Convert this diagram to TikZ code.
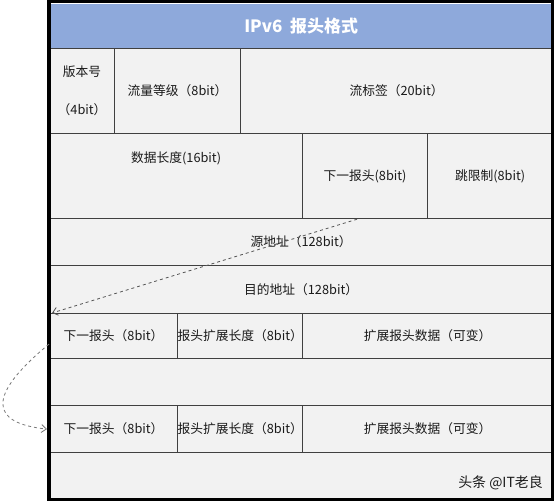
\documentclass[tikz,border=0pt]{standalone}
\usepackage{fontspec}
\newfontfamily\cjk{Noto Sans CJK SC}
\usetikzlibrary{arrows.meta}
\definecolor{titleblue}{HTML}{8EA9DB}
\definecolor{cellgray}{HTML}{F2F2F2}
\definecolor{gridgray}{HTML}{404040}
\definecolor{textgray}{HTML}{1A1A1A}
\definecolor{arrowgray}{HTML}{555555}
\definecolor{curvegray}{HTML}{777777}
\begin{document}
\begin{tikzpicture}[x=1bp,y=1bp]

  % Definitions
  \tikzstyle{Field} = [rectangle, anchor=north west, inner sep=0pt, draw=gridgray, line width=1.2bp, fill=cellgray, text=textgray, font=\cjk\fontsize{12.8}{14}\selectfont, text centered]
  \tikzstyle{Label} = [inner sep=0pt, text=textgray, font=\cjk\fontsize{12.8}{14}\selectfont]
  \tikzstyle{arrow} = [dashed, line width=0.8bp, -{Straight Barb[length=5bp,width=8bp]}]

  \useasboundingbox (0,0) rectangle (555,-501);

  % title
  \node (title) [Field, draw=none, fill=titleblue, text=white, font=\cjk\bfseries\fontsize{17}{19}\selectfont, minimum width=503bp, minimum height=45bp] at (49,-3) {IPv6\ \ 报头格式};

  % fixed header
  \node (ver) [Field, minimum width=65bp, minimum height=85bp, align=center, font=\cjk\fontsize{12.8}{38}\selectfont] at (49,-48) {版本号\\（4bit）};
  \node (tc) [Field, minimum width=126bp, minimum height=85bp] at (114,-48) {流量等级（8bit）};
  \node (fl) [Field, minimum width=312bp, minimum height=85bp] at (240,-48) {流标签（20bit）};

  \node (len) [Field, minimum width=253bp, minimum height=85bp] at (49,-133) {};
  \node (lentext) [Label] at ([yshift=-25bp]len.north) {数据长度(16bit)};
  \node (nh) [Field, minimum width=125bp, minimum height=85bp] at (302,-133) {下一报头(8bit)};
  \node (hop) [Field, minimum width=125bp, minimum height=85bp] at (427,-133) {跳限制(8bit)};

  \node (src) [Field, minimum width=503bp, minimum height=47bp] at (49,-218) {源地址（128bit）};
  \node (dst) [Field, minimum width=503bp, minimum height=48bp] at (49,-265) {目的地址（128bit）};

  % extension headers
  \node (nh1) [Field, minimum width=128bp, minimum height=45bp] at (49,-313) {下一报头（8bit）};
  \node (el1) [Field, minimum width=125bp, minimum height=45bp] at (177,-313) {报头扩展长度（8bit）};
  \node (ed1) [Field, minimum width=250bp, minimum height=45bp] at (302,-313) {扩展报头数据（可变）};
  \node (gap) [Field, minimum width=503bp, minimum height=47bp] at (49,-358) {};
  \node (nh2) [Field, minimum width=128bp, minimum height=47bp] at (49,-405) {下一报头（8bit）};
  \node (el2) [Field, minimum width=125bp, minimum height=47bp] at (177,-405) {报头扩展长度（8bit）};
  \node (ed2) [Field, minimum width=250bp, minimum height=47bp] at (302,-405) {扩展报头数据（可变）};
  \node (tail) [Field, minimum width=503bp, minimum height=47bp] at (49,-452) {};
  \node (mark) [Label, anchor=east, font=\cjk\fontsize{14}{16}\selectfont] at (543,-483) {头条 @IT老良};

  % outer frame
  \draw [line width=3.5bp] (49,-1.75) rectangle (552.5,-499.25);

  \draw [arrow, draw=arrowgray] ([xshift=-8bp]nh.south) -- ([xshift=3bp]nh1.north west);
  \draw [arrow, draw=curvegray] ([yshift=-8bp]nh1.west) .. controls +(-63,-52) and +(-57,6) .. ([xshift=-2bp]nh2.west);

\end{tikzpicture}
\end{document}
